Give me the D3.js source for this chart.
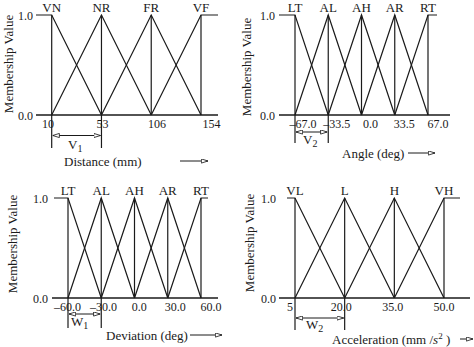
<!DOCTYPE html>
<html><head><meta charset="utf-8">
<script src="https://cdn.jsdelivr.net/npm/d3@7"></script>
<style>
html,body{margin:0;padding:0;background:#fff;}
svg{display:block;font-family:"Liberation Serif","Times New Roman",serif;}
</style></head>
<body><svg id="c" width="474" height="347"></svg>
<script>
// ---- data ----
const distTerms  = ["VN","NR","FR","VF"];
const distTicks  = ["10","53","106","154"];
const angleTerms = ["LT","AL","AH","AR","RT"];
const angleTicks = ["\u201367.0","\u201333.5","0.0","33.5","67.0"];
const devTerms   = ["LT","AL","AH","AR","RT"];
const devTicks   = ["\u201360.0","\u201330.0","0.0","30.0","60.0"];
const accTerms   = ["VL","L","H","VH"];
const accTicks   = ["5","20.0","35.0","50.0"];
const gradeTicks = [0, 1];            // membership grades
const gradeLabels = ["0.0","1.0"];

// ---- layout ----
const panels = [
  {terms:distTerms, ticks:distTicks, title:"Distance (mm)", dim:["V","1"],
   peaks:[51.7,201], yr:[115,15], axis:[36,218], shoulder:[36,218], lab:[48,211.5],
   ytx:33, ylab:[12.5,64], dropTo:148, dimY:135.5, dimLab:[68,149],
   titleX:64, titleY:166, arrow:[180,208,161]},
  {terms:angleTerms, ticks:angleTicks, title:"Angle (deg)", dim:["V","2"],
   peaks:[295,428], yr:[115,15], axis:[279,450], shoulder:[279,437], lab:[303,438],
   ytx:275, ylab:[251,67], dropTo:143, dimY:132, dimLab:[303,144],
   titleX:342, titleY:158, arrow:[408,435,153]},
  {terms:devTerms, ticks:devTicks, title:"Deviation (deg)", dim:["W","1"],
   peaks:[68,201], yr:[298,198], axis:[52,218], shoulder:[54,208], lab:[67.5,211],
   ytx:48, ylab:[17,244], dropTo:328, dimY:314, dimLab:[71,326],
   titleX:106, titleY:340, arrow:[190,222,335]},
  {terms:accTerms, ticks:accTicks, title:"Acceleration (mm /", dim:["W","2"],
   peaks:[295,444], yr:[298,198], axis:[279,470], shoulder:[287,460], lab:[290,444],
   ytx:276, ylab:[254,243], dropTo:330, dimY:318, dimLab:[306,329],
   titleX:332, titleY:344, arrow:[460,473,339], sup:true}
];

const svg = d3.select("#c");
const ink = "#1a1a1a";
const defs = svg.append("defs");
defs.append("marker").attr("id","oa").attr("viewBox","0 0 8 6")
  .attr("refX",8).attr("refY",3).attr("markerWidth",7).attr("markerHeight",5)
  .attr("markerUnits","userSpaceOnUse").attr("orient","auto-start-reverse")
  .append("path").attr("d","M0,0.5L8,3L0,5.5Z").attr("fill","#fff").attr("stroke",ink).attr("stroke-width",1);

panels.forEach(p => {
  const n = p.terms.length;
  const idx = d3.range(n);
  const x = d3.scaleLinear().domain([0, n-1]).range(p.peaks);
  const xl = d3.scaleLinear().domain([0, n-1]).range(p.lab);
  const y = d3.scaleLinear().domain([0,1]).range(p.yr);
  const g = svg.append("g");
  const line = d3.line().x(d => x(d[0])).y(d => y(d[1]));

  // baseline axis
  g.append("path").attr("d", line([[x.invert(p.axis[0]),0],[x.invert(p.axis[1]),0]]))
    .attr("stroke",ink).attr("stroke-width",1.3).attr("fill","none");

  // membership functions
  idx.forEach(i => {
    let pts;
    if (i === 0) pts = [[x.invert(p.shoulder[0]),1],[0,1],[1,0]];
    else if (i === n-1) pts = [[n-2,0],[n-1,1],[x.invert(p.shoulder[1]),1]];
    else pts = [[i-1,0],[i,1],[i+1,0]];
    g.append("path").attr("d", line(pts)).attr("fill","none")
      .attr("stroke",ink).attr("stroke-width",1.2);
    // vertical line at peak
    const yb = (i < 2) ? p.dropTo : y(0);
    g.append("line").attr("x1",x(i)).attr("x2",x(i)).attr("y1",y(1)).attr("y2",yb)
      .attr("stroke",ink).attr("stroke-width",1.2);
    // term label
    g.append("text").attr("x",x(i)).attr("y",y(1)-3).attr("text-anchor","middle")
      .attr("font-size",13).attr("fill",ink).text(p.terms[i]);
    // tick label
    g.append("text").attr("x",xl(i)).attr("y",y(0)+13).attr("text-anchor","middle")
      .attr("font-size",12).attr("fill",ink).text(p.ticks[i]);
  });

  // y tick labels
  gradeTicks.forEach((v,k) => {
    g.append("text").attr("x",p.ytx).attr("y",y(v)+4.5).attr("text-anchor","end")
      .attr("font-size",12).attr("fill",ink).text(gradeLabels[k]);
  });

  // y axis title
  g.append("text").attr("transform",`translate(${p.ylab[0]},${p.ylab[1]}) rotate(-90)`)
    .attr("text-anchor","middle").attr("font-size",13).attr("fill",ink).text("Membership Value");

  // dimension arrow between first two peaks
  g.append("line").attr("x1",x(0)+1).attr("x2",x(1)-1).attr("y1",p.dimY).attr("y2",p.dimY)
    .attr("stroke",ink).attr("stroke-width",1)
    .attr("marker-start","url(#oa)").attr("marker-end","url(#oa)");
  const dt = g.append("text").attr("x",p.dimLab[0]).attr("y",p.dimLab[1])
    .attr("font-size",13).attr("fill",ink);
  dt.append("tspan").text(p.dim[0]);
  dt.append("tspan").attr("dy",3).attr("font-size",10).text(p.dim[1]);

  // axis title with arrow
  const tt = g.append("text").attr("x",p.titleX).attr("y",p.titleY)
    .attr("font-size",13).attr("fill",ink);
  if (p.sup) {
    tt.append("tspan").text("Acceleration (mm /");
    tt.append("tspan").attr("font-style","italic").text("s");
    tt.append("tspan").attr("dy",-5).attr("font-size",9).text("2");
    tt.append("tspan").attr("dy",5).text(" )");
  } else {
    tt.text(p.title);
  }
  g.append("line").attr("x1",p.arrow[0]).attr("x2",p.arrow[1])
    .attr("y1",p.arrow[2]).attr("y2",p.arrow[2])
    .attr("stroke",ink).attr("stroke-width",1).attr("marker-end","url(#oa)");
});
</script></body></html>
